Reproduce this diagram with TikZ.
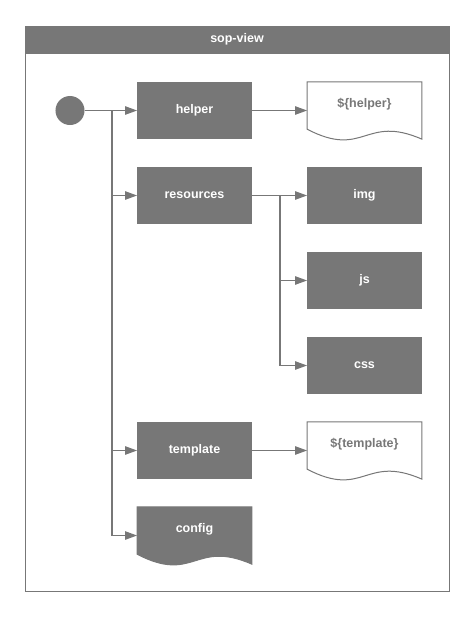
\documentclass[tikz,border=0pt]{standalone}
\usepackage{fontspec}
\setmainfont{Liberation Sans}
\usetikzlibrary{arrows.meta,backgrounds}

\definecolor{boxgray}{RGB}{119,119,119}

% document outline with a wavy bottom, drawn round a named node
\newcommand{\docoutline}[2]{%
  \draw[#2] ([yshift=0.35cm]#1.south west) -- (#1.north west) -- (#1.north east)
    -- (#1.south east)
    .. controls ([yshift=0.88cm]#1.south) and ([yshift=-0.70cm]#1.south)
    .. ([yshift=0.35cm]#1.south west) -- cycle;
}

\begin{document}
\begin{tikzpicture}[
    font=\fontsize{12.5}{15}\selectfont\bfseries,
    vframe/.style  = {draw=boxgray, line width=1pt, minimum width=14.902cm,
                      minimum height=19.858cm, inner sep=0pt},
    vhead/.style   = {fill=boxgray, text=white, minimum width=14.902cm,
                      minimum height=0.984cm, inner sep=0pt, anchor=north},
    vstart/.style  = {circle, fill=boxgray, minimum size=1.02cm, inner sep=0pt},
    vbox/.style    = {rectangle, fill=boxgray, text=white, minimum width=4.02cm,
                      minimum height=2.0cm, inner sep=0pt},
    vdoc/.style    = {rectangle, minimum width=4.02cm, minimum height=2.0cm,
                      inner sep=0pt, text depth=15pt},
    vpage/.style   = {fill=white, draw=boxgray, line width=1pt},
    vpagefull/.style = {fill=boxgray, draw=boxgray, line width=1pt},
    arr/.style     = {-{Triangle[length=4.2mm,width=2.9mm]}, line width=1.5pt,
                      draw=boxgray},
  ]

  \useasboundingbox (0,0) rectangle (16.659cm,-21.685cm);

  \node[vframe] (frame) at (8.330cm, -10.843cm) {};
  \node[vhead] (head) at (frame.north) {sop-view};

  \node[vstart] (start) at (2.460cm, -3.884cm) {};
  \node[vbox] (helper) at (6.836cm, -3.884cm) {helper};
  \node[vbox] (resources) at (6.836cm, -6.871cm) {resources};
  \node[vbox] (template) at (6.836cm, -15.833cm) {template};
  \node[vdoc, text=white] (config) at (6.836cm, -18.821cm) {config};
  \node[vdoc, text=boxgray] (helperdoc) at (12.811cm, -3.884cm) {\$\{helper\}};
  \node[vbox] (img) at (12.811cm, -6.871cm) {img};
  \node[vbox] (js) at (12.811cm, -9.858cm) {js};
  \node[vbox] (css) at (12.811cm, -12.846cm) {css};
  \node[vdoc, text=boxgray] (templatedoc) at (12.811cm, -15.833cm) {\$\{template\}};

  \begin{scope}[on background layer]
    \docoutline{helperdoc}{vpage}
    \docoutline{templatedoc}{vpage}
    \docoutline{config}{vpagefull}
  \end{scope}

  \coordinate (trunk) at (3.936cm, -3.884cm);
  \coordinate (fork) at (9.841cm, -6.871cm);

  \draw[arr] (start) -- (helper);
  \draw[arr] (trunk) |- (resources);
  \draw[arr] (trunk) |- (template);
  \draw[arr] (trunk) |- (config);
  \draw[arr] (helper) -- (helperdoc);
  \draw[arr] (resources) -- (img);
  \draw[arr] (fork) |- (js);
  \draw[arr] (fork) |- (css);
  \draw[arr] (template) -- (templatedoc);

\end{tikzpicture}
\end{document}
